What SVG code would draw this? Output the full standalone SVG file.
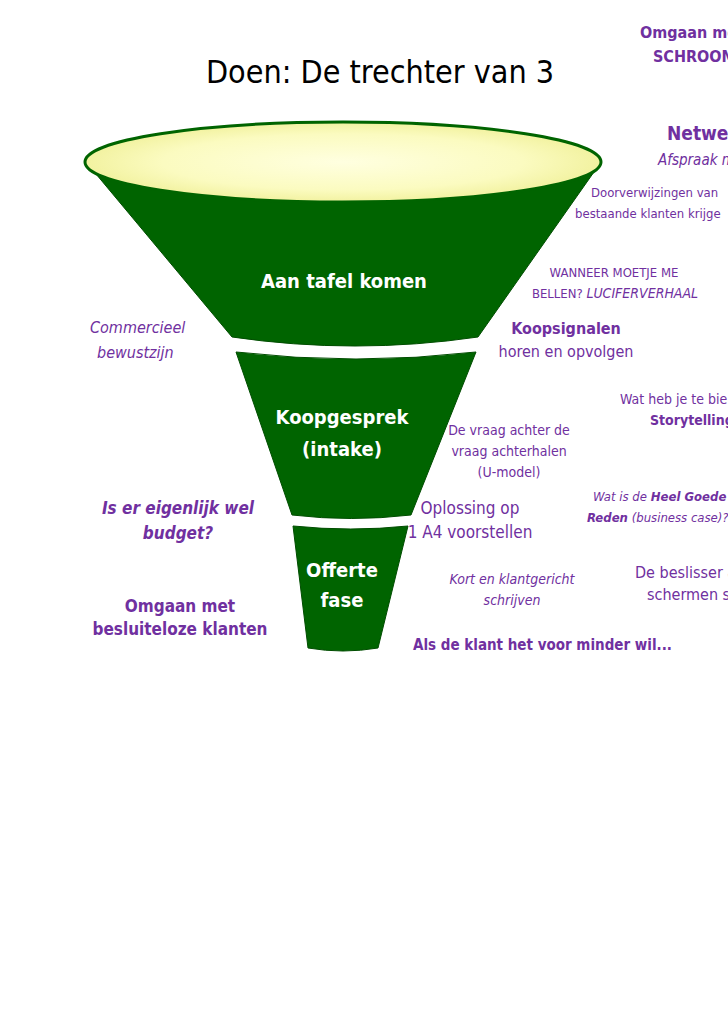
<svg xmlns="http://www.w3.org/2000/svg" width="728" height="1031" viewBox="0 0 728 1031">
<defs>
<radialGradient id="yg" cx="0.5" cy="0.5" r="0.5"><stop offset="0" stop-color="#ffffe0"/><stop offset="0.7" stop-color="#fbfbc0"/><stop offset="1" stop-color="#f2f2a0"/></radialGradient>
</defs>
<style>
.p{fill:#7030a0;font-family:"DejaVu Sans Condensed","Liberation Sans",sans-serif}
.b{font-weight:bold}.i{font-style:italic}
.w{fill:#fff;font-family:"DejaVu Sans Condensed","Liberation Sans",sans-serif;font-weight:bold}
.g{fill:#006400;stroke:#004d00;stroke-width:1}
</style>
<rect width="728" height="1031" fill="#fff"/>
<text x="380" y="83" text-anchor="middle" font-family="DejaVu Sans Condensed,Liberation Sans,sans-serif" font-size="32" fill="#000">Doen: De trechter van 3</text>
<g id="funnel">
<path class="g" d="M86,162 L232,337 Q355,355 478,337 L601,162 Z"/>
<ellipse cx="343" cy="162" rx="258" ry="40" fill="url(#yg)" stroke="#006400" stroke-width="3"/>
<path class="g" d="M236,352 Q356,366 476,352 L411,515 Q351,522 292,515 Z"/>
<path class="g" d="M293,526 Q351,532 408,526 L378,648 Q343,654 308,648 Z"/>
</g>
<g id="stage-labels">
<text class="w" x="344" y="288" text-anchor="middle" font-size="20">Aan tafel komen</text>
<text class="w" x="342" y="424" text-anchor="middle" font-size="20">Koopgesprek</text>
<text class="w" x="342" y="456" text-anchor="middle" font-size="20">(intake)</text>
<text class="w" x="342" y="577" text-anchor="middle" font-size="20">Offerte</text>
<text class="w" x="342" y="607" text-anchor="middle" font-size="20">fase</text>
</g>
<g id="notes">
<text class="p b" x="640" y="38" font-size="16">Omgaan me</text>
<text class="p b" x="653" y="62" font-size="16">SCHROOM</text>
<text class="p b" x="667" y="140" font-size="19">Netwer</text>
<text class="p i" x="658" y="165" font-size="15">Afspraak m</text>
<text class="p" x="591" y="197" font-size="13">Doorverwijzingen van</text>
<text class="p" x="575" y="218" font-size="13">bestaande klanten krijge</text>
<text class="p" x="614" y="277" text-anchor="middle" font-size="13">WANNEER MOETJE ME</text>
<text class="p" x="615" y="298" text-anchor="middle" font-size="13">BELLEN? <tspan class="i" font-size="14">LUCIFERVERHAAL</tspan></text>
<text class="p i" x="90" y="333" font-size="16">Commercieel</text>
<text class="p i" x="97" y="358" font-size="16">bewustzijn</text>
<text class="p b" x="566" y="334" text-anchor="middle" font-size="16">Koopsignalen</text>
<text class="p" x="566" y="357" text-anchor="middle" font-size="16">horen en opvolgen</text>
<text class="p" x="620" y="404" font-size="14">Wat heb je te bie</text>
<text class="p b" x="650" y="425" font-size="14">Storytelling</text>
<text class="p" x="509" y="435" text-anchor="middle" font-size="14">De vraag achter de</text>
<text class="p" x="509" y="456" text-anchor="middle" font-size="14">vraag achterhalen</text>
<text class="p" x="509" y="477" text-anchor="middle" font-size="14">(U-model)</text>
<text class="p b i" x="178" y="514" text-anchor="middle" font-size="17">Is er eigenlijk wel</text>
<text class="p b i" x="178" y="539" text-anchor="middle" font-size="17">budget?</text>
<text class="p" x="470" y="514" text-anchor="middle" font-size="17">Oplossing op</text>
<text class="p" x="470" y="538" text-anchor="middle" font-size="17">1  A4 voorstellen</text>
<text class="p i" x="593" y="501" font-size="13">Wat is de <tspan class="b">Heel Goede</tspan></text>
<text class="p i" x="587" y="522" font-size="13"><tspan class="b">Reden</tspan> (business case)?</text>
<text class="p i" x="512" y="584" text-anchor="middle" font-size="14">Kort en klantgericht</text>
<text class="p i" x="512" y="605" text-anchor="middle" font-size="14">schrijven</text>
<text class="p" x="635" y="578" font-size="16">De beslisser a</text>
<text class="p" x="647" y="600" font-size="16">schermen s</text>
<text class="p b" x="180" y="612" text-anchor="middle" font-size="17">Omgaan met</text>
<text class="p b" x="180" y="635" text-anchor="middle" font-size="17">besluiteloze klanten</text>
<text class="p b" x="413" y="650" font-size="15">Als de klant het voor minder wil...</text>
</g>
</svg>
